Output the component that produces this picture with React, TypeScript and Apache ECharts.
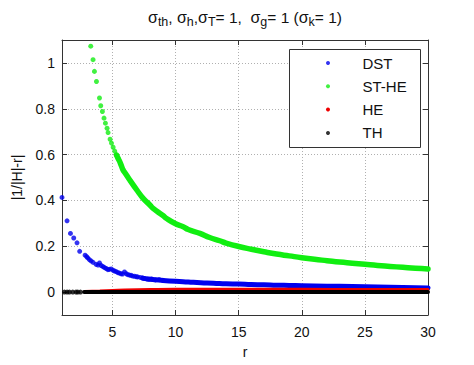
import React, { useEffect, useRef } from 'react';
import * as echarts from 'echarts';

const FONT = '"Liberation Sans", Arial, Helvetica, sans-serif';

const legendNames = ['DST', 'ST-HE', 'HE', 'TH'];
const xTicks = [5, 10, 15, 20, 25, 30];
const yTicks = [0, 0.2, 0.4, 0.6, 0.8, 1];

// DST: discrete points (r, value)
const dstPoints: [number, number][] = [
  [1.0, 0.413], [1.4, 0.311], [1.67, 0.256], [1.93, 0.236], [2.19, 0.215], [2.4, 0.178],
  [2.83, 0.161], [2.95, 0.155], [3.04, 0.149], [3.17, 0.142], [3.3, 0.136], [3.46, 0.130],
  [3.7, 0.121], [3.85, 0.118], [3.97, 0.127], [4.1, 0.116], [4.25, 0.111], [4.37, 0.107],
  [4.5, 0.103], [4.63, 0.098], [4.75, 0.099], [4.9, 0.101], [5.05, 0.095], [5.16, 0.092],
  [5.3, 0.089], [5.42, 0.085], [5.55, 0.083], [5.68, 0.080], [5.8, 0.079], [5.95, 0.088],
  [6.1, 0.080], [6.21, 0.076], [6.35, 0.074], [6.48, 0.073], [6.6, 0.070], [6.75, 0.069],
  [6.9, 0.067], [7.0, 0.066], [7.2, 0.064], [7.4, 0.061], [7.55, 0.059], [7.75, 0.057],
  [7.9, 0.056], [8.1, 0.057], [8.4, 0.053], [8.7, 0.054], [9.0, 0.051],
];
// DST: dense band (r, value)
const dstBand: [number, number][] = [
  [7.4, 0.061], [8, 0.056], [9, 0.051], [10, 0.047], [11, 0.044], [12, 0.041], [13, 0.039],
  [14, 0.036], [15, 0.035], [16, 0.033], [17, 0.032], [18, 0.030], [19, 0.029], [20, 0.028],
  [22, 0.026], [24, 0.024], [26, 0.022], [28, 0.020], [30, 0.018],
];

// ST-HE: discrete points
const stHePoints: [number, number][] = [
  [3.28, 1.073], [3.46, 1.014], [3.57, 0.963], [3.73, 0.919], [3.97, 0.847], [4.07, 0.813],
  [4.2, 0.788], [4.33, 0.759], [4.44, 0.737], [4.57, 0.715], [4.65, 0.696], [4.81, 0.667],
  [4.92, 0.650], [5.05, 0.632], [5.18, 0.615], [5.32, 0.598], [5.44, 0.584], [5.63, 0.562],
  [5.84, 0.533],
];
// ST-HE: dense band
const stHeBand: [number, number][] = [
  [5.32, 0.598], [5.44, 0.584], [5.63, 0.562], [5.84, 0.533], [6, 0.52], [6.37, 0.489],
  [7, 0.44], [7.43, 0.409], [8, 0.378], [8.22, 0.365], [9, 0.334], [9.29, 0.321], [10, 0.298],
  [10.6, 0.285], [11, 0.273], [11.93, 0.256], [12.7, 0.238], [13.5, 0.224], [14, 0.214],
  [15, 0.199], [16, 0.187], [17, 0.176], [18, 0.166], [19, 0.158], [20, 0.150], [21, 0.143],
  [22, 0.137], [23, 0.131], [24, 0.126], [25, 0.121], [26, 0.116], [27, 0.112], [28, 0.108],
  [29, 0.104], [30, 0.101],
];

// HE: dense band
const heBand: [number, number][] = [
  [2.8, 0.003], [4, 0.005], [5, 0.007], [6, 0.009], [8, 0.011], [10, 0.012], [15, 0.012],
  [20, 0.012], [25, 0.011], [30, 0.011],
];

// TH: discrete points and dense band
const thPoints: [number, number][] = [
  [0.95, 0], [1.19, 0], [1.4, 0], [1.59, 0], [1.85, 0], [2.11, 0], [2.25, 0], [2.46, 0],
];
const thBand: [number, number][] = [
  [2.75, 0], [10, 0], [20, 0], [30, 0],
];

const COLORS = { DST: '#0000ee', 'ST-HE': '#11ee11', HE: '#ee0000', TH: '#000000' };

export default function App() {
  const ref = useRef<HTMLDivElement>(null);
  useEffect(() => {
    const chart = echarts.init(ref.current!, null, { renderer: 'svg' });
    const axisLine = { show: true, onZero: false, lineStyle: { color: '#333', width: 1 } };
    const tickStyle = { color: '#333', width: 1 };
    const grid = { type: [1, 2], color: '#b0b0b0', width: 1 };
    const band = (name: string, data: [number, number][], color: string, width: number) => ({
      name, type: 'line', data, showSymbol: false, symbol: 'none', silent: true,
      lineStyle: { color, width, cap: 'round' }, itemStyle: { color }, smooth: true,
    });
    const pts = (name: string, data: [number, number][], color: string) => ({
      name, type: 'scatter', data, symbolSize: 5, silent: true, itemStyle: { color },
    });
    chart.setOption({
      animation: false,
      backgroundColor: '#fff',
      textStyle: { fontFamily: FONT },
      grid: { left: 62, top: 40, width: 366, height: 275 },
      graphic: [
        {
          type: 'text', x: 245, y: 17, z: 10,
          style: {
            text: '{s|σ}{b|th}{n|, }{s|σ}{b|h}{n|,}{s|σ}{b|T}{n|= 1,  }{s|σ}{b|g}{n|= 1 (}{s|σ}{b|k}{n|= 1)}',
            align: 'center', verticalAlign: 'middle',
            rich: {
              s: { fontSize: 16, fontFamily: FONT, lineHeight: 22, verticalAlign: 'middle', fill: '#111' },
              n: { fontSize: 15.5, fontFamily: FONT, lineHeight: 22, verticalAlign: 'middle', fill: '#111' },
              b: { fontSize: 12.5, fontFamily: FONT, lineHeight: 12, verticalAlign: 'bottom', fill: '#111' },
            },
          },
        },
        {
          type: 'rect', z: 9,
          shape: { x: 289.5, y: 49.5, width: 131, height: 98 },
          style: { fill: '#fff', stroke: '#333', lineWidth: 1 },
        },
      ],
      legend: {
        data: legendNames.map((n) => ({ name: n, icon: 'circle' })),
        orient: 'vertical', left: 326, top: 55,
        itemWidth: 59, itemHeight: 4, itemGap: 7.3,
        padding: 0,
        textStyle: { fontSize: 15, lineHeight: 16, color: '#111', fontFamily: FONT },
        selectedMode: false, z: 10,
      },
      xAxis: [
        {
          type: 'value', min: 1, max: 30, position: 'bottom',
          axisLine,
          axisTick: { show: true, inside: true, length: 5, customValues: xTicks, lineStyle: tickStyle },
          axisLabel: { customValues: xTicks, fontSize: 14, color: '#111', margin: 10, fontFamily: FONT },
          splitLine: { show: true, lineStyle: grid },
          name: 'r', nameLocation: 'middle', nameGap: 30,
          nameTextStyle: { fontSize: 14, color: '#111', fontFamily: FONT },
        },
        {
          type: 'value', min: 1, max: 30, position: 'top',
          axisLine,
          axisTick: { show: true, inside: true, length: 5, customValues: xTicks, lineStyle: tickStyle },
          axisLabel: { show: false },
          splitLine: { show: false },
        },
      ],
      yAxis: [
        {
          type: 'value', min: -0.1, max: 1.1, position: 'left',
          axisLine,
          axisTick: { show: true, inside: true, length: 5, customValues: yTicks, lineStyle: tickStyle },
          axisLabel: {
            customValues: yTicks, fontSize: 14, color: '#111', margin: 7, fontFamily: FONT,
            formatter: (v: number) => String(Math.round(v * 10) / 10),
          },
          splitLine: { show: true, lineStyle: grid },
          name: '|1/|H|-r|', nameLocation: 'middle', nameGap: 38, nameRotate: 90,
          nameTextStyle: { fontSize: 14, color: '#111', fontFamily: FONT },
        },
        {
          type: 'value', min: -0.1, max: 1.1, position: 'right',
          axisLine,
          axisTick: { show: true, inside: true, length: 5, customValues: yTicks, lineStyle: tickStyle },
          axisLabel: { show: false },
          splitLine: { show: false },
        },
      ],
      series: [
        pts('DST', dstPoints, COLORS.DST),
        band('DST band', dstBand, COLORS.DST, 5),
        pts('ST-HE', stHePoints, COLORS['ST-HE']),
        band('ST-HE band', stHeBand, COLORS['ST-HE'], 5.5),
        band('HE', heBand, COLORS.HE, 3),
        pts('TH', thPoints, COLORS.TH),
        band('TH band', thBand, COLORS.TH, 4),
      ],
    });
    return () => chart.dispose();
  }, []);
  return <div ref={ref} style={{ position: 'absolute', left: 0, top: 0, width: 474, height: 365 }} />;
}
